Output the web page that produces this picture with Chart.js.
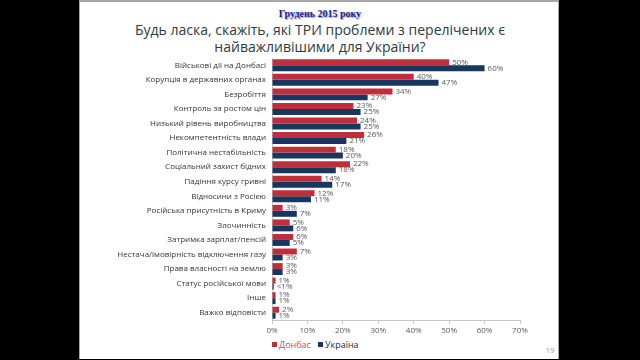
<!DOCTYPE html>
<html>
<head>
<meta charset="utf-8">
<script src="https://cdn.jsdelivr.net/npm/chart.js@4.4.1/dist/chart.umd.min.js"></script>
<style>
  html, body { margin:0; padding:0; width:640px; height:360px; background:#000; overflow:hidden; }
  #slide { position:absolute; left:79px; top:0; width:480px; height:359px; background:#fff;
           border-left:1px solid #a8a8a8; border-right:1px solid #a8a8a8; border-top:2px solid #a8a8a8; box-sizing:border-box; }
  #sub { position:absolute; left:0; width:640px; top:8px; text-align:center; font:bold 10px "Liberation Serif", serif;
         color:#22228c; text-shadow:1px 1px 1px #9a9ac0; }
  #title { position:absolute; left:0; width:640px; top:21px; text-align:center; font:14px "Open Sans", sans-serif;
           line-height:17px; color:#2c3a42; }
  #page { position:absolute; left:540px; top:344px; width:20px; text-align:center; font:8px "Open Sans", sans-serif; color:#9a9a9a; }
  #legend { position:absolute; left:272px; top:338px; font:9px "Open Sans", sans-serif; white-space:nowrap; }
  #legend span.item { margin-right:7px; }
  #legend span.box { display:inline-block; width:5px; height:5px; margin-right:2px; vertical-align:1px; }
  canvas { position:absolute; left:0; top:0; }
</style>
</head>
<body>
<div id="slide"></div>
<div id="sub">Грудень 2015 року</div>
<div id="title">Будь ласка, скажіть, які ТРИ проблеми з перелічених є<br>найважливішими для України?</div>
<div id="legend"></div>
<div id="page">19</div>
<canvas id="c" width="640" height="360"></canvas>
<script>
const categories = [
  "Військові дії на Донбасі",
  "Корупція в державних органах",
  "Безробіття",
  "Контроль за ростом цін",
  "Низький рівень виробництва",
  "Некомпетентність влади",
  "Політична нестабільність",
  "Соціальний захист бідних",
  "Падіння курсу гривні",
  "Відносини з Росією",
  "Російська присутність в Криму",
  "Злочинність",
  "Затримка зарплат/пенсій",
  "Нестача/імовірність відключення газу",
  "Права власності на землю",
  "Статус російської мови",
  "Інше",
  "Важко відповісти"
];
const donbas  = [50, 40, 34, 23, 24, 26, 18, 22, 14, 12, 3, 5, 6, 7, 3, 1, 1, 2];
const ukraine = [60, 47, 27, 25, 25, 21, 20, 18, 17, 11, 7, 6, 5, 3, 3, 0.5, 1, 1];
const donbasLabels  = ["50%","40%","34%","23%","24%","26%","18%","22%","14%","12%","3%","5%","6%","7%","3%","1%","1%","2%"];
const ukraineLabels = ["60%","47%","27%","25%","25%","21%","20%","18%","17%","11%","7%","6%","5%","3%","3%","<1%","1%","1%"];
const xTicks = [0, 10, 20, 30, 40, 50, 60, 70];

const RED = "#be2f3b", NAVY = "#17375e";

const valueLabels = {
  id: "valueLabels",
  afterDatasetsDraw(chart) {
    const ctx = chart.ctx;
    ctx.save();
    ctx.font = "8px 'Open Sans', sans-serif";
    ctx.fillStyle = "#595959";
    ctx.textBaseline = "middle";
    ctx.textAlign = "left";
    chart.data.datasets.forEach((ds, i) => {
      const meta = chart.getDatasetMeta(i);
      meta.data.forEach((el, j) => {
        ctx.fillText(ds.valueLabels[j], el.x + 3, el.y);
      });
    });
    ctx.restore();
  }
};

const chart = new Chart(document.getElementById("c"), {
  type: "bar",
  data: {
    labels: categories,
    datasets: [
      { label: "Донбас", data: donbas, backgroundColor: RED, valueLabels: donbasLabels, legendText: "#c0505a" },
      { label: "Україна", data: ukraine, backgroundColor: NAVY, valueLabels: ukraineLabels, legendText: "#1f2d3a" }
    ]
  },
  options: {
    indexAxis: "y",
    responsive: false,
    animation: false,
    devicePixelRatio: 1,
    layout: { padding: { left: 0, right: 120, top: 58, bottom: 0 } },
    datasets: { bar: { categoryPercentage: 0.82, barPercentage: 1.0 } },
    plugins: { legend: { display: false }, tooltip: { enabled: false } },
    scales: {
      x: {
        min: 0, max: 70,
        afterBuildTicks: (s) => { s.ticks = xTicks.map(v => ({ value: v })); },
        afterFit: (s) => { s.height = 40; },
        grid: { drawOnChartArea: false, drawTicks: true, tickLength: 4, color: "#c8c8c8" },
        border: { color: "#c8c8c8" },
        ticks: { callback: v => v + "%", color: "#595959", font: { family: "Open Sans", size: 8 }, padding: 2, maxRotation: 0 }
      },
      y: {
        afterFit: (s) => { s.width = 272; },
        grid: { drawOnChartArea: false, drawTicks: false },
        border: { color: "#c8c8c8" },
        ticks: { color: "#333", font: { family: "Open Sans", size: 8 }, padding: 6, autoSkip: false }
      }
    }
  },
  plugins: [valueLabels]
});

const leg = document.getElementById("legend");
chart.data.datasets.forEach(ds => {
  const it = document.createElement("span");
  it.className = "item";
  it.innerHTML = '<span class="box" style="background:' + ds.backgroundColor + '"></span><span style="color:' + ds.legendText + '">' + ds.label + '</span>';
  leg.appendChild(it);
});
</script>
</body>
</html>
